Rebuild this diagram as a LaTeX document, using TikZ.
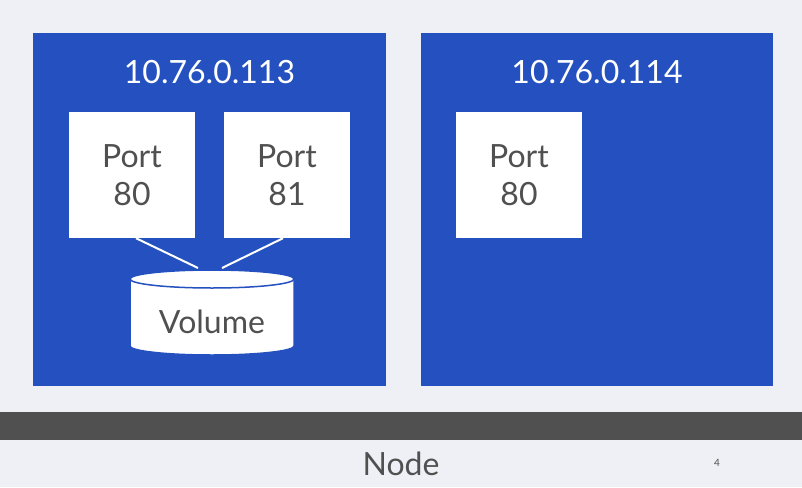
\documentclass[tikz,border=0pt]{standalone}
\usepackage{fontspec}
\setmainfont{Lato}
\begin{document}
\begin{tikzpicture}[x=1pt,y=-1pt,
  box/.style={fill=blue1,draw=none},
  port/.style={fill=white,draw=none,minimum width=126pt,minimum height=126pt,align=center,font=\fontsize{32}{38}\selectfont,text=gray1,inner sep=0pt},
  lbl/.style={text=white,font=\fontsize{32}{38}\selectfont}]
\definecolor{blue1}{HTML}{2451BF}
\definecolor{gray1}{HTML}{505050}
\definecolor{bg}{HTML}{EEF0F5}
\fill[bg] (0,0) rectangle (802,487);
\useasboundingbox (0,0) rectangle (802,487);
\fill[box] (33,33) rectangle (386,386);
\fill[box] (421,33) rectangle (773,386);
\fill[gray1] (0,412) rectangle (802,440);
\node[lbl] (ip1) at (209.5,72) {10.76.0.113};
\node[lbl] (ip2) at (597,72) {10.76.0.114};
\node[port] (p1) at (132,175) {Port\\80};
\node[port] (p2) at (287,175) {Port\\81};
\node[port] (p3) at (519,175) {Port\\80};
\draw[white,line width=2pt] (p1.south) ++(4,0) -- (198,268);
\draw[white,line width=2pt] (p2.south) ++(-4,0) -- (222,268);
\fill[white,draw=blue1,line width=1.5pt] (130,279) -- (130,346) arc[start angle=180,end angle=0,x radius=82,y radius=9] -- (294,279) arc[start angle=0,end angle=-180,x radius=82,y radius=9] -- cycle;
\draw[blue1,line width=1.5pt] (130,279) arc[start angle=180,end angle=0,x radius=82,y radius=9];
\node[text=gray1,font=\fontsize{32}{38}\selectfont] (vol) at (212,322) {Volume};
\node[text=gray1,font=\fontsize{32}{38}\selectfont] (nd) at (401,464) {Node};
\node[text=gray1,font=\fontsize{10}{12}\selectfont] (pg) at (717,463) {4};
\end{tikzpicture}
\end{document}
